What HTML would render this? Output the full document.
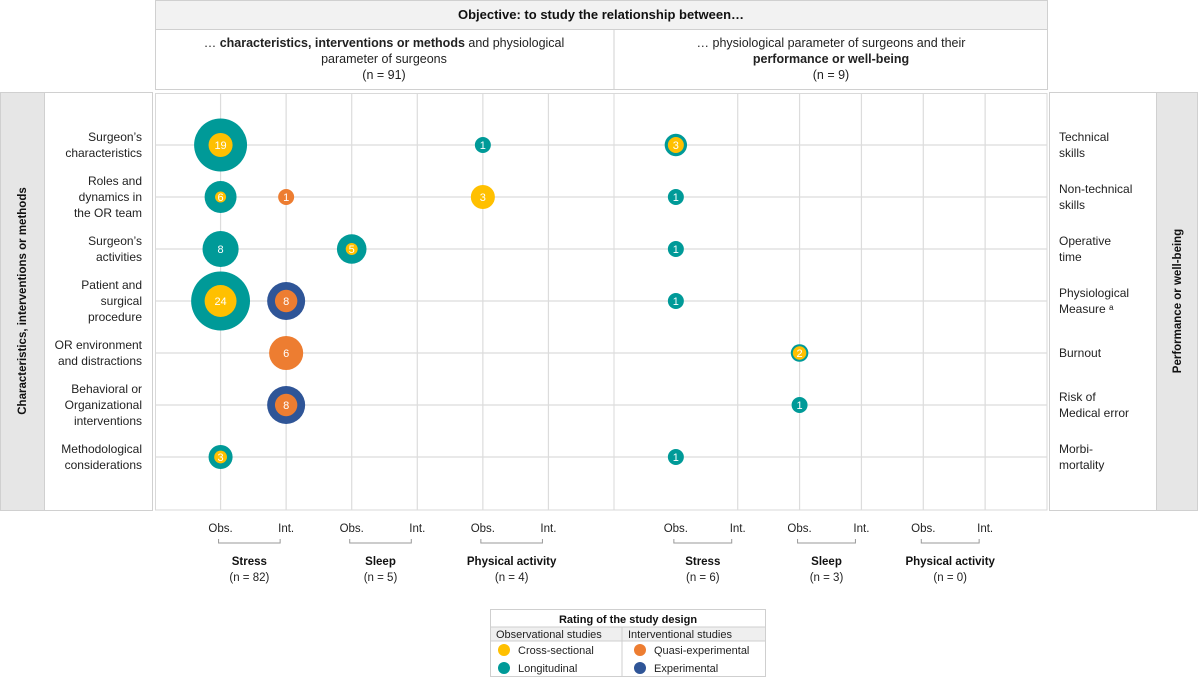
<!DOCTYPE html>
<html><head><meta charset="utf-8"><style>
body{margin:0;background:#fff;width:1200px;height:680px;overflow:hidden;font-family:"Liberation Sans",sans-serif}
svg text{font-family:"Liberation Sans",sans-serif}
</style></head><body>
<svg id="chart" width="1200" height="680">
<g id="frame"></g>
<g id="grid"></g>
<g id="bubbles"></g>
</svg>
<script>
// ---- data ----
const rowLabelsLeft = [["Surgeon’s","characteristics"],["Roles and","dynamics in","the OR team"],["Surgeon’s","activities"],["Patient and","surgical","procedure"],["OR environment","and distractions"],["Behavioral or","Organizational","interventions"],["Methodological","considerations"]];
const rowLabelsRight = [["Technical","skills"],["Non-technical","skills"],["Operative","time"],["Physiological","Measure ᵃ"],["Burnout"],["Risk of","Medical error"],["Morbi-","mortality"]];
const groupNames = ["Stress","Sleep","Physical activity","Stress","Sleep","Physical activity"];
const groupN = ["(n = 82)","(n = 5)","(n = 4)","(n = 6)","(n = 3)","(n = 0)"];
// bubbles: column index (0..5 left half, 6..11 right half), row index
const bubbleCol   = [0,0,0,0,0,1,1,1,2,4,1,4,6,6,6,6,8,8,6];
const bubbleRow   = [0,1,2,3,6,1,3,4,2,1,5,0,0,1,2,3,4,5,6];
const bubbleLabel = [19,6,8,24,3,1,8,6,5,3,8,1,3,1,1,1,2,1,1];
const outerValue  = [19,6,8,24,3,1,9,7,5,3,9,1,2.5,1,1,1,1.3,1,1];
const outerType   = ["L","L","L","L","L","Q","E","Q","L","C","E","L","L","L","L","L","L","L","L"];
const innerValue  = [3,0.3,0,6,0.5,0,2.5,0,0.4,0,2.5,0,1,0,0,0,0.6,0,0];
const innerType   = ["C","C",null,"C","C",null,"Q",null,"C",null,"Q",null,"C",null,null,null,"C",null,null];
const colors = {C:"#FFC000",L:"#009A98",Q:"#ED7D31",E:"#2F5597"};

const NS="http://www.w3.org/2000/svg";
function mk(parent,tag,attrs,txt){const e=document.createElementNS(NS,tag);for(const k in attrs)e.setAttribute(k,attrs[k]);if(txt!=null)e.textContent=txt;document.getElementById(parent).appendChild(e);return e;}
// axis functions
const leftX0=155, leftX1=614, rightX1=1047, plotTop=93, plotBot=510;
function xCol(c){ if(c<6) return leftX0+(leftX1-leftX0)/7*(c+1); return leftX1+(rightX1-leftX1)/7*(c-6+1);}
function yRow(r){ return 145+52*r; }
function rad(n){ return 2.5+5.5*Math.sqrt(n); }

// frame
let e;
e=mk("frame","rect",{x:155.5,y:0.5,width:892,height:29,fill:"#f2f2f2",stroke:"#d0d0d0"});

e=mk("frame","text",{x:601,y:19,"text-anchor":"middle","font-size":13,"font-weight":"bold",fill:"#111"},"Objective: to study the relationship between…");

mk("frame","rect",{x:155.5,y:29.5,width:458.5,height:60,fill:"#fff",stroke:"#d0d0d0"});
mk("frame","rect",{x:614,y:29.5,width:433.5,height:60,fill:"#fff",stroke:"#d0d0d0"});
e=mk("frame","text",{x:384,y:47,"text-anchor":"middle","font-size":12.5,fill:"#222"});
e.innerHTML='… <tspan font-weight="bold">characteristics, interventions or methods</tspan> and physiological';

mk("frame","text",{x:384,y:63,"text-anchor":"middle","font-size":12.5,fill:"#222"},"parameter of surgeons");
mk("frame","text",{x:384,y:79,"text-anchor":"middle","font-size":12.5,fill:"#222"},"(n = 91)");
e=mk("frame","text",{x:831,y:47,"text-anchor":"middle","font-size":12.5,fill:"#222"},"… physiological parameter of surgeons and their");

mk("frame","text",{x:831,y:63,"text-anchor":"middle","font-size":12.5,"font-weight":"bold",fill:"#222"},"performance or well-being");
mk("frame","text",{x:831,y:79,"text-anchor":"middle","font-size":12.5,fill:"#222"},"(n = 9)");
// side panels
mk("frame","rect",{x:0.5,y:92.5,width:44,height:418,fill:"#e6e6e6",stroke:"#d0d0d0"});
mk("frame","rect",{x:44.5,y:92.5,width:108,height:418,fill:"#fff",stroke:"#d0d0d0"});
e=mk("frame","text",{x:0,y:0,transform:"translate(26,301) rotate(-90)","text-anchor":"middle","font-size":11.5,"font-weight":"bold",fill:"#111"},"Characteristics, interventions or methods");

mk("frame","rect",{x:1049.5,y:92.5,width:107,height:418,fill:"#fff",stroke:"#d0d0d0"});
mk("frame","rect",{x:1156.5,y:92.5,width:41,height:418,fill:"#e6e6e6",stroke:"#d0d0d0"});
e=mk("frame","text",{x:0,y:0,transform:"translate(1181,301) rotate(-90)","text-anchor":"middle","font-size":11.5,"font-weight":"bold",fill:"#111"},"Performance or well-being");

// plot area
mk("grid","rect",{x:155.5,y:93.5,width:458.5,height:416.5,fill:"#fff",stroke:"#d9d9d9"});
mk("grid","rect",{x:614,y:93.5,width:433,height:416.5,fill:"#fff",stroke:"#d9d9d9"});
for(let c=0;c<12;c++){ if(c===6) continue; const x=xCol(c); mk("grid","line",{x1:x,x2:x,y1:94,y2:510,stroke:"#dcdcdc","stroke-width":1.2}); }
for(let r=0;r<7;r++){ const y=yRow(r); mk("grid","line",{x1:156,x2:1047,y1:y,y2:y,stroke:"#dcdcdc","stroke-width":1.2}); }
// row labels
rowLabelsLeft.forEach((lines,r)=>{
  lines.forEach((t,i)=>{e=mk("frame","text",{x:142,y:(lines.length===2? yRow(r)-4+i*16 : yRow(r)-12+i*16),"text-anchor":"end","font-size":12,fill:"#222"},t);
  });});
rowLabelsRight.forEach((lines,r)=>{
  lines.forEach((t,i)=>{e=mk("frame","text",{x:1059,y:(lines.length===1? yRow(r)+4 : yRow(r)-4+i*16),"font-size":12,fill:"#222"},t);
  });});
// bottom axis
for(let g=0;g<6;g++){
  const c0=(g<3)?g*2:6+(g-3)*2; const xa=xCol(c0), xb=xCol(c0+1);
  e=mk("frame","text",{x:xa,y:532,"text-anchor":"middle","font-size":11.5,fill:"#222"},"Obs.");
  
  e=mk("frame","text",{x:xb,y:532,"text-anchor":"middle","font-size":11.5,fill:"#222"},"Int.");
  
  mk("frame","path",{d:`M${xa-2},539 V543 H${xb-6} V539`,fill:"none",stroke:"#999"});
  const xm=(xa+xb)/2-4;
  e=mk("frame","text",{x:xm,y:565,"text-anchor":"middle","font-size":11.5,"font-weight":"bold",fill:"#111"},groupNames[g]);
  
  mk("frame","text",{x:xm,y:581,"text-anchor":"middle","font-size":11.5,fill:"#222"},groupN[g]);
}
// bubbles
bubbleCol.forEach((c,i)=>{
  const x=xCol(c), y=yRow(bubbleRow[i]);
  e=mk("bubbles","circle",{cx:x,cy:y,r:rad(outerValue[i]),fill:colors[outerType[i]]});
  
  if(innerType[i]&&innerValue[i]>0){
    e=mk("bubbles","circle",{cx:x,cy:y,r:rad(innerValue[i]),fill:colors[innerType[i]]});
    
  }
  e=mk("bubbles","text",{x:x,y:y+4,"text-anchor":"middle","font-size":11,fill:"#fff"},bubbleLabel[i]);
  
});
// legend
const L="frame";
e=mk(L,"rect",{x:490.5,y:609.5,width:275,height:67,fill:"#fff",stroke:"#cfcfcf"});

mk(L,"text",{x:628,y:623,"text-anchor":"middle","font-size":11,"font-weight":"bold",fill:"#111"},"Rating of the study design");
mk(L,"rect",{x:491,y:627,width:274,height:14,fill:"#efefef"});
mk(L,"line",{x1:491,x2:765,y1:627,y2:627,stroke:"#cfcfcf"});
mk(L,"line",{x1:491,x2:765,y1:641,y2:641,stroke:"#cfcfcf"});
mk(L,"line",{x1:622,x2:622,y1:627,y2:676,stroke:"#cfcfcf"});
mk(L,"text",{x:496,y:638,"font-size":11,fill:"#222"},"Observational studies");
mk(L,"text",{x:628,y:638,"font-size":11,fill:"#222"},"Interventional studies");
[["C","Cross-sectional",504,652],["L","Longitudinal",504,670],["Q","Quasi-experimental",640,652],["E","Experimental",640,670]].forEach(d=>{
  e=mk(L,"circle",{cx:d[2],cy:d[3]-2,r:6,fill:colors[d[0]]});
  
  e=mk(L,"text",{x:d[2]+14,y:d[3]+2,"font-size":11,fill:"#222"},d[1]);
  
});
</script>
</body></html>
